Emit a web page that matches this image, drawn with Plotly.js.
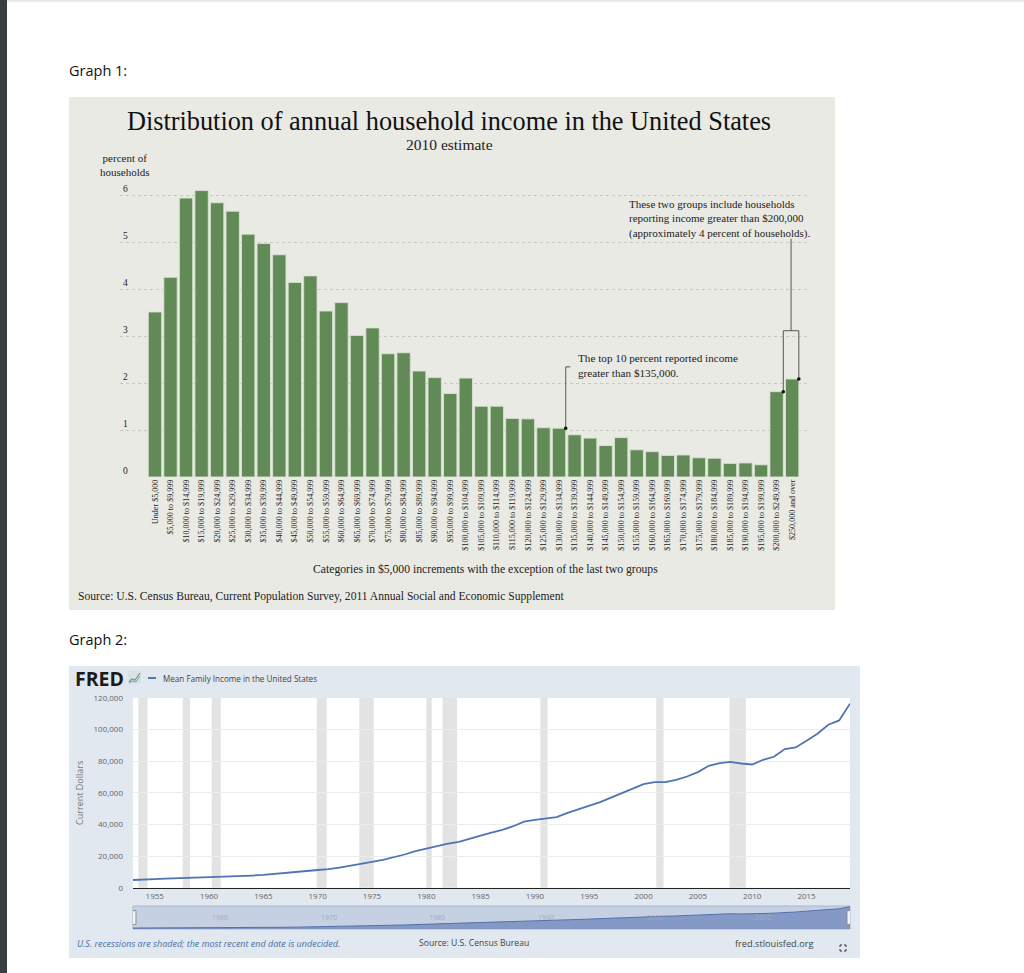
<!DOCTYPE html>
<html>
<head>
<meta charset="utf-8">
<script src="https://cdn.plot.ly/plotly-3.0.1.min.js"></script>
<style>
  html, body { margin:0; padding:0; background:#ffffff; width:1024px; height:973px; overflow:hidden; }
  #strip { position:absolute; left:0; top:0; width:7px; height:973px; background:#3b3e41; }
  #topline { position:absolute; left:7px; top:0; width:1017px; height:3px; background:linear-gradient(#e2e2e2,#ffffff); }
  .lbl { position:absolute; left:69px; font-family:"Open Sans", sans-serif; font-size:14.5px; color:#111; }
  #g1 { position:absolute; left:69px; top:97px; width:766px; height:513px; }
  #g2 { position:absolute; left:69px; top:666px; width:791px; height:292px; }
</style>
</head>
<body>
<div id="strip"></div>
<div id="topline"></div>
<div class="lbl" style="top:61px;">Graph 1:</div>
<div class="lbl" style="top:630px;">Graph 2:</div>
<div id="g1"></div>
<div id="g2"></div>
<script>
// ---------------- Graph 1 data ----------------
const incomeCategories = [
  "Under $5,000", "$5,000 to $9,999", "$10,000 to $14,999", "$15,000 to $19,999",
  "$20,000 to $24,999", "$25,000 to $29,999", "$30,000 to $34,999", "$35,000 to $39,999",
  "$40,000 to $44,999", "$45,000 to $49,999", "$50,000 to $54,999", "$55,000 to $59,999",
  "$60,000 to $64,999", "$65,000 to $69,999", "$70,000 to $74,999", "$75,000 to $79,999",
  "$80,000 to $84,999", "$85,000 to $89,999", "$90,000 to $94,999", "$95,000 to $99,999",
  "$100,000 to $104,999", "$105,000 to $109,999", "$110,000 to $114,999", "$115,000 to $119,999",
  "$120,000 to $124,999", "$125,000 to $129,999", "$130,000 to $134,999", "$135,000 to $139,999",
  "$140,000 to $144,999", "$145,000 to $149,999", "$150,000 to $154,999", "$155,000 to $159,999",
  "$160,000 to $164,999", "$165,000 to $169,999", "$170,000 to $174,999", "$175,000 to $179,999",
  "$180,000 to $184,999", "$185,000 to $189,999", "$190,000 to $194,999", "$195,000 to $199,999",
  "$200,000 to $249,999", "$250,000 and over"
];
const percentHouseholds = [
  3.52, 4.26, 5.95, 6.11, 5.85, 5.67, 5.18, 4.98, 4.74, 4.15,
  4.29, 3.54, 3.72, 3.02, 3.18, 2.63, 2.65, 2.26, 2.12, 1.78,
  2.11, 1.51, 1.51, 1.25, 1.24, 1.05, 1.04, 0.90, 0.83, 0.67,
  0.84, 0.58, 0.54, 0.46, 0.47, 0.41, 0.40, 0.29, 0.30, 0.26,
  1.82, 2.09
];
const yTicks1 = [0, 1, 2, 3, 4, 5, 6];

// ---------------- Graph 2 data ----------------
const years = [
  1953,1954,1955,1956,1957,1958,1959,1960,1961,1962,1963,1964,1965,1966,1967,1968,1969,
  1970,1971,1972,1973,1974,1975,1976,1977,1978,1979,1980,1981,1982,1983,1984,1985,1986,
  1987,1988,1989,1990,1991,1992,1993,1994,1995,1996,1997,1998,1999,2000,2001,2002,2003,
  2004,2005,2006,2007,2008,2009,2010,2011,2012,2013,2014,2015,2016,2017,2018,2019
];
const meanFamilyIncome = [
  4880,4950,5400,5750,5950,6100,6400,6570,6800,7050,7350,7700,8050,8600,9050,9750,10550,
  11200,11700,12700,13800,15000,16400,17600,19100,21000,23100,24700,26600,27900,29000,31100,32950,34800,
  36560,38900,41800,42880,43530,44600,47330,49670,51770,54110,57030,59810,62730,65510,66780,66780,68240,
  70330,73120,77110,78800,79650,78570,77930,80910,82810,87680,88700,92950,97380,103080,105810,116400
];
const recessionStart = ['1953-07-01','1957-08-01','1960-04-01','1969-12-01','1973-11-01','1980-01-01','1981-07-01','1990-07-01','2001-03-01','2007-12-01'];
const recessionEnd   = ['1954-05-01','1958-04-01','1961-02-01','1970-11-01','1975-03-01','1980-07-01','1982-11-01','1991-03-01','2001-11-01','2009-06-01'];
const xTickYears2 = [1955,1960,1965,1970,1975,1980,1985,1990,1995,2000,2005,2010,2015];
const navigatorYears = [1960,1970,1980,1990,2000,2010];
const yTicks2 = [0,20000,40000,60000,80000,100000,120000];

// =============== GRAPH 1 ===============
(function(){
  const W = 766, H = 513, L = 51, R = 27, T = 87, B = 133;
  const pw = W - L - R, ph = H - T - B;
  const px = x => (x - L) / pw;          // div px -> paper x
  const py = y => (H - B - y) / ph;      // div py -> paper y
  const serif = "Liberation Serif, Times New Roman, serif";
  const barHalf = 0.43;

  const shapes = [];
  const annotations = [];
  // Top 10 percent callout: from bar "$130,000 to $134,999"
  const iTop = 26;
  const calloutY = 2.35;
  shapes.push({type:'line', xref:'x', yref:'y', x0:iTop+barHalf, x1:iTop+barHalf, y0:percentHouseholds[iTop], y1:calloutY, line:{color:'#555', width:1}});
  shapes.push({type:'line', xref:'x', yref:'y', x0:iTop+barHalf, x1:iTop+barHalf+0.3, y0:calloutY, y1:calloutY, line:{color:'#555', width:1}});
  // bracket for two last groups
  const iA = 40, iB = 41, bracketY = 3.12, stemTop = 5.08;
  shapes.push({type:'line', xref:'x', yref:'y', x0:iA+barHalf, x1:iA+barHalf, y0:percentHouseholds[iA], y1:bracketY, line:{color:'#555', width:1}});
  shapes.push({type:'line', xref:'x', yref:'y', x0:iB+barHalf, x1:iB+barHalf, y0:percentHouseholds[iB], y1:bracketY, line:{color:'#555', width:1}});
  shapes.push({type:'line', xref:'x', yref:'y', x0:iA+barHalf, x1:iB+barHalf, y0:bracketY, y1:bracketY, line:{color:'#555', width:1}});
  const mid = (iA + iB) / 2 + barHalf;
  shapes.push({type:'line', xref:'x', yref:'y', x0:mid, x1:mid, y0:bracketY, y1:stemTop, line:{color:'#555', width:1}});
  // dots
  [iTop, iA, iB].forEach(i => {
    shapes.push({type:'circle', xref:'x', yref:'y', xsizemode:'pixel', ysizemode:'pixel',
      xanchor:i+barHalf, yanchor:percentHouseholds[i], x0:-1.8, x1:1.8, y0:-1.8, y1:1.8,
      fillcolor:'#111', line:{width:0}});
  });

  annotations.push({xref:'x', yref:'y', x:iTop+1.07, y:calloutY+0.02, xanchor:'left', yanchor:'middle', align:'left', showarrow:false,
    text:'The top 10 percent reported income<br>greater than $135,000.', font:{family:serif, size:11.2, color:'#222'}});
  annotations.push({xref:'x', yref:'y', x:30.35, y:5.5, xanchor:'left', yanchor:'middle', align:'left', showarrow:false,
    text:'These two groups include households<br>reporting income greater than $200,000<br>(approximately 4 percent of households).', font:{family:serif, size:11, color:'#222'}});
  annotations.push({xref:'paper', yref:'paper', x:px(380), y:py(47.5), xanchor:'center', yanchor:'middle', showarrow:false,
    text:'2010 estimate', font:{family:serif, size:15.5, color:'#222'}});
  annotations.push({xref:'paper', yref:'paper', x:px(56), y:py(67.5), xanchor:'center', yanchor:'middle', showarrow:false,
    text:'percent of<br>households', font:{family:serif, size:11, color:'#222'}});
  annotations.push({xref:'paper', yref:'paper', x:px(417), y:py(472), xanchor:'center', yanchor:'middle', showarrow:false,
    text:'Categories in $5,000 increments with the exception of the last two groups', font:{family:serif, size:11.7, color:'#222'}});
  annotations.push({xref:'paper', yref:'paper', x:px(7), y:py(500), xanchor:'left', yanchor:'middle', showarrow:false,
    text:'Source: U.S. Census Bureau, Current Population Survey, 2011 Annual Social and Economic Supplement', font:{family:serif, size:11.6, color:'#222'}});

  const trace = {
    type:'bar', x:incomeCategories, y:percentHouseholds,
    marker:{color:'#628a57', line:{color:'rgba(215,226,208,0.9)', width:1}},
    hoverinfo:'skip'
  };
  const layout = {
    width:W, height:H, margin:{l:L, r:R, t:T, b:B, pad:0},
    paper_bgcolor:'#eaeae5', plot_bgcolor:'#eaeae5',
    bargap:0.14, showlegend:false,
    title:{text:'Distribution of annual household income in the United States', xref:'container', yref:'container',
      x:380/766, y:1-24/513, xanchor:'center', yanchor:'middle', font:{family:serif, size:26.3, color:'#111'}},
    xaxis:{type:'category', range:[-2.25, 42.02], tickangle:-90, showgrid:false, zeroline:false, showline:false,
      ticks:'', tickfont:{family:serif, size:8.1, color:'#222'}, fixedrange:true, automargin:false},
    yaxis:{range:[0, 6.25], tickvals:yTicks1, ticktext:yTicks1.map(String), ticklabelposition:'inside top',
      showgrid:true, gridcolor:'#c9c9c3', griddash:'dot', gridwidth:1, zeroline:false, showline:false, ticks:'',
      tickfont:{family:serif, size:9.5, color:'#222'}, fixedrange:true, automargin:false},
    shapes:shapes, annotations:annotations
  };
  Plotly.newPlot('g1', [trace], layout, {displayModeBar:false, staticPlot:true});
})();

// =============== GRAPH 2 ===============
(function(){
  const W = 791, H = 292, L = 64, R = 10, T = 32, B = 29;
  const pw = W - L - R, ph = H - T - B;
  const px = x => (x - L) / pw;
  const py = y => (H - B - y) / ph;
  const sans = "Open Sans, sans-serif";
  const lineColor = '#4f74b3';
  const xDates = years.map(y => y + '-01-01');
  const xRange = [xDates[0], xDates[xDates.length-1]];
  const mainBottom = (H - B - 221.7) / ph;
  const navTop = (H - B - 240) / ph;

  const shapes = [];
  recessionStart.forEach((s, i) => {
    shapes.push({type:'rect', xref:'x', yref:'y domain', x0:s, x1:recessionEnd[i], y0:0, y1:1,
      fillcolor:'#e3e3e3', line:{width:0}, layer:'below'});
  });
  // navigator background
  shapes.push({type:'rect', xref:'x2 domain', yref:'y2 domain', x0:0, x1:1, y0:0, y1:1,
    fillcolor:'#c6d0e3', line:{color:'#aab7cf', width:1}, layer:'below'});
  // navigator handles
  [xRange[0], xRange[1]].forEach(d => {
    shapes.push({type:'rect', xref:'x2', yref:'y2 domain', xsizemode:'pixel', xanchor:d, x0:-3, x1:3,
      y0:0.2, y1:0.8, fillcolor:'#f4f4f4', line:{color:'#8d8d8d', width:1}, layer:'above'});
  });
  // legend line
  shapes.push({type:'line', xref:'paper', yref:'paper', x0:px(79), x1:px(87), y0:py(12), y1:py(12), line:{color:lineColor, width:2}});
  // FRED tiny chart icon
  shapes.push({type:'rect', xref:'paper', yref:'paper', x0:px(59), x1:px(72), y0:py(18), y1:py(5), fillcolor:'#d9e0e6', line:{width:0}});
  shapes.push({type:'path', xref:'paper', yref:'paper',
    path:`M ${px(60)} ${py(16)} L ${px(63)} ${py(13)} L ${px(66)} ${py(14)} L ${px(71)} ${py(7)}`,
    line:{color:'#6aa56a', width:1.2}});
  shapes.push({type:'path', xref:'paper', yref:'paper',
    path:`M ${px(60)} ${py(17)} L ${px(64)} ${py(15)} L ${px(67)} ${py(16)} L ${px(71)} ${py(10)}`,
    line:{color:'#7d9fd0', width:1}});
  // expand icon corners
  const ex = 774, ey = 282;
  [[-1,-1],[1,-1],[-1,1],[1,1]].forEach(([sx, sy]) => {
    const cx = ex + sx*3, cy = ey + sy*3;
    shapes.push({type:'path', xref:'paper', yref:'paper',
      path:`M ${px(cx)} ${py(cy - sy*2)} L ${px(cx)} ${py(cy)} L ${px(cx - sx*2)} ${py(cy)}`,
      line:{color:'#333', width:1}});
  });

  const annotations = [];
  annotations.push({xref:'paper', yref:'paper', x:px(4), y:py(12.5), xanchor:'left', yanchor:'middle', showarrow:false,
    text:'<b>FRED</b>', font:{family:'Open Sans, sans-serif', size:19.5, color:'#1b1b1b', weight:900}});
  annotations.push({xref:'paper', yref:'paper', x:px(92), y:py(12), xanchor:'left', yanchor:'middle', showarrow:false,
    text:'Mean Family Income in the United States', font:{family:sans, size:8.1, color:'#444'}});
  annotations.push({xref:'paper', yref:'paper', x:px(6), y:py(277), xanchor:'left', yanchor:'middle', showarrow:false,
    text:'<i>U.S. recessions are shaded; the most recent end date is undecided.</i>', font:{family:sans, size:9, color:'#4a6ea6'}});
  annotations.push({xref:'paper', yref:'paper', x:px(348), y:py(277), xanchor:'left', yanchor:'middle', showarrow:false,
    text:'Source: U.S. Census Bureau', font:{family:sans, size:8.6, color:'#444'}});
  annotations.push({xref:'paper', yref:'paper', x:px(664), y:py(277), xanchor:'left', yanchor:'middle', showarrow:false,
    text:'fred.stlouisfed.org', font:{family:sans, size:9.2, color:'#444'}});
  navigatorYears.forEach(y => {
    annotations.push({xref:'x2', yref:'y2 domain', x:y + '-01-01', y:0.5, xanchor:'left', yanchor:'middle', xshift:1, showarrow:false,
      text:String(y), font:{family:sans, size:7, color:'#a3acbd'}});
  });

  const main = {type:'scatter', mode:'lines', x:xDates, y:meanFamilyIncome, xaxis:'x', yaxis:'y',
    line:{color:lineColor, width:1.8}, hoverinfo:'skip'};
  const nav = {type:'scatter', mode:'lines', x:xDates, y:meanFamilyIncome, xaxis:'x2', yaxis:'y2',
    fill:'tozeroy', fillcolor:'rgba(88,116,176,0.6)', line:{color:'#5571ab', width:1}, hoverinfo:'skip'};

  const layout = {
    width:W, height:H, margin:{l:L, r:R, t:T, b:B, pad:0},
    paper_bgcolor:'#e1e8ef', plot_bgcolor:'#ffffff', showlegend:false,
    xaxis:{type:'date', range:xRange, domain:[0,1], anchor:'y',
      tickvals:xTickYears2.map(y => y + '-01-01'), ticktext:xTickYears2.map(String),
      showgrid:false, zeroline:false, showline:true, linecolor:'#222', linewidth:1.5, ticks:'',
      tickfont:{family:sans, size:8, color:'#666'}, fixedrange:true, automargin:false},
    yaxis:{range:[0,120000], domain:[mainBottom, 1], anchor:'x', tickvals:yTicks2, tickformat:',',
      showgrid:true, gridcolor:'#ececec', gridwidth:1, zeroline:false, showline:false, ticks:'',
      ticklabelstandoff:9,
      tickfont:{family:sans, size:8, color:'#666'}, fixedrange:true, automargin:false,
      title:{text:'Current Dollars', font:{family:sans, size:9, color:'#777'}, standoff:8}},
    xaxis2:{type:'date', range:xRange, domain:[0,1], anchor:'y2', visible:false, fixedrange:true},
    yaxis2:{range:[0, 120000], domain:[0, navTop], anchor:'x2', visible:false, fixedrange:true},
    shapes:shapes, annotations:annotations
  };
  Plotly.newPlot('g2', [main, nav], layout, {displayModeBar:false, staticPlot:true});
})();
</script>
</body>
</html>
